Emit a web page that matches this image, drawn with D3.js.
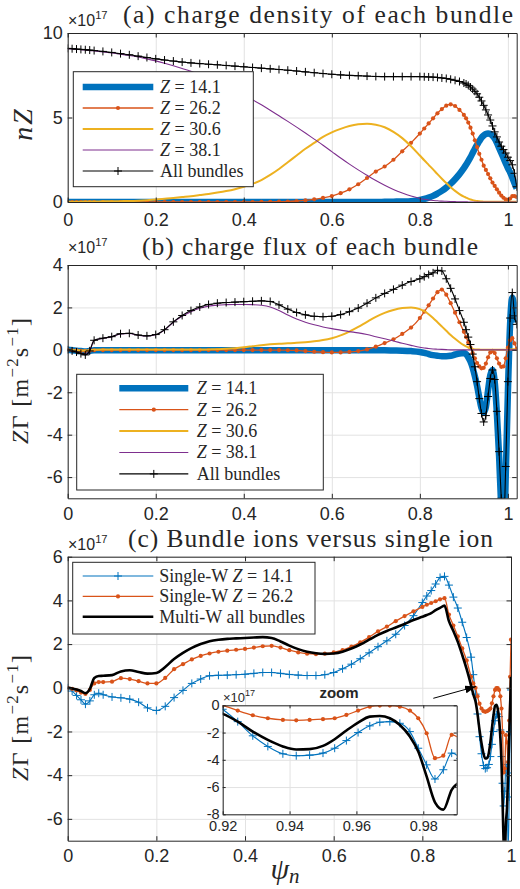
<!DOCTYPE html>
<html lang="en">
<head>
<meta charset="UTF-8">
<title>Charge density and flux of W bundles</title>
<script src="https://d3js.org/d3.v7.min.js"></script>
<style>
  body { margin: 0; background: #fff; }
  svg { display: block; }
</style>
</head>
<body>
<script>
// ---- data ----------------------------------------------------------------
// radial grid used in panels (a) and (b)
const psiAB = [
  0, 0.01, 0.02, 0.03, 0.04, 0.05, 0.06, 0.08, 0.10, 0.12,
  0.14, 0.16, 0.18, 0.20, 0.22, 0.24, 0.26, 0.28, 0.30, 0.32,
  0.34, 0.36, 0.38, 0.40, 0.42, 0.44, 0.46, 0.48, 0.50, 0.52,
  0.54, 0.56, 0.58, 0.60, 0.62, 0.64, 0.66, 0.68, 0.70, 0.72,
  0.74, 0.76, 0.78, 0.80, 0.81, 0.82, 0.83, 0.84, 0.85, 0.86,
  0.87, 0.88, 0.89, 0.90, 0.905, 0.91, 0.915, 0.92, 0.925, 0.93,
  0.935, 0.94, 0.945, 0.95, 0.955, 0.96, 0.965, 0.97, 0.975, 0.98,
  0.985, 0.99, 0.995, 1.00, 1.005, 1.01, 1.015, 1.02
];

// (a) charge density nZ, units of 1e17
const densAll = [
  9.09, 9.07, 9.05, 9.03, 9.01, 8.99, 8.96, 8.91, 8.85, 8.78,
  8.71, 8.63, 8.55, 8.47, 8.40, 8.34, 8.28, 8.23, 8.19, 8.15,
  8.12, 8.08, 8.04, 8.00, 7.96, 7.92, 7.88, 7.84, 7.80, 7.75,
  7.70, 7.65, 7.60, 7.56, 7.52, 7.49, 7.47, 7.45, 7.43, 7.42,
  7.42, 7.42, 7.42, 7.42, 7.41, 7.40, 7.39, 7.37, 7.34, 7.31,
  7.26, 7.20, 7.13, 7.04, 6.98, 6.90, 6.80, 6.68, 6.55, 6.40,
  6.20, 5.98, 5.72, 5.45, 5.15, 4.85, 4.50, 4.15, 3.85, 3.55,
  3.30, 3.10, 2.90, 2.65, 2.45, 2.20, 1.70, 0.90
];
const dens141 = [
  0, 0, 0, 0, 0, 0, 0, 0, 0, 0,
  0, 0, 0, 0, 0, 0, 0, 0, 0, 0,
  0, 0, 0, 0, 0, 0, 0, 0, 0, 0,
  0, 0, 0, 0, 0, 0, 0, 0, 0, 0.01,
  0.02, 0.03, 0.05, 0.12, 0.18, 0.26, 0.36, 0.50, 0.66, 0.85,
  1.08, 1.35, 1.65, 2.00, 2.20, 2.42, 2.65, 2.90, 3.15, 3.38,
  3.60, 3.80, 3.93, 4.02, 4.05, 4.02, 3.92, 3.75, 3.50, 3.20,
  2.90, 2.60, 2.30, 2.00, 1.75, 1.45, 1.10, 0.80
];
const dens262 = [
  0, 0, 0, 0, 0, 0, 0, 0, 0, 0,
  0, 0, 0, 0, 0, 0, 0, 0, 0, 0,
  0, 0, 0, 0, 0, 0.01, 0.01, 0.02, 0.03, 0.06,
  0.10, 0.16, 0.24, 0.35, 0.52, 0.75, 1.05, 1.42, 1.80, 2.10,
  2.50, 3.00, 3.50, 4.05, 4.35, 4.65, 4.95, 5.25, 5.50, 5.70,
  5.78, 5.68, 5.45, 5.15, 4.95, 4.70, 4.40, 4.05, 3.65, 3.25,
  2.85, 2.50, 2.15, 1.90, 1.65, 1.40, 1.15, 0.95, 0.75, 0.55,
  0.38, 0.25, 0.15, 0.12, 0.20, 0.35, 0.35, 0.30
];
const dens306 = [
  0.02, 0.02, 0.02, 0.02, 0.03, 0.03, 0.03, 0.04, 0.04, 0.05,
  0.06, 0.08, 0.11, 0.15, 0.19, 0.24, 0.29, 0.34, 0.41, 0.48,
  0.56, 0.65, 0.76, 0.90, 1.07, 1.30, 1.60, 1.95, 2.35, 2.75,
  3.15, 3.50, 3.85, 4.12, 4.33, 4.50, 4.60, 4.63, 4.57, 4.42,
  4.15, 3.78, 3.30, 2.75, 2.47, 2.20, 1.93, 1.65, 1.38, 1.12,
  0.88, 0.66, 0.47, 0.32, 0.26, 0.20, 0.15, 0.11, 0.08, 0.06,
  0.04, 0.03, 0.02, 0.02, 0.01, 0.01, 0.01, 0.01, 0.01, 0.01,
  0.01, 0.01, 0.01, 0.01, 0.01, 0.01, 0.01, 0.01
];
const dens381 = [
  9.07, 9.05, 9.03, 9.01, 8.99, 8.97, 8.94, 8.88, 8.82, 8.75,
  8.67, 8.58, 8.47, 8.35, 8.21, 8.06, 7.90, 7.73, 7.53, 7.32,
  7.10, 6.86, 6.60, 6.33, 6.05, 5.75, 5.43, 5.10, 4.77, 4.43,
  4.08, 3.72, 3.36, 2.98, 2.60, 2.24, 1.90, 1.58, 1.27, 0.99,
  0.74, 0.53, 0.35, 0.21, 0.16, 0.12, 0.09, 0.07, 0.05, 0.04,
  0.03, 0.02, 0.01, 0.01, 0.01, 0, 0, 0, 0, 0,
  0, 0, 0, 0, 0, 0, 0, 0, 0, 0,
  0, 0, 0, 0, 0, 0, 0, 0
];

// (b) charge flux Z*Gamma, units of 1e17 m^-2 s^-1
const fluxAll = [
  0, -0.05, -0.10, -0.18, -0.24, -0.05, 0.45, 0.55, 0.62, 0.76,
  0.78, 0.70, 0.66, 0.72, 0.95, 1.32, 1.62, 1.85, 2.02, 2.14,
  2.20, 2.23, 2.25, 2.27, 2.29, 2.31, 2.28, 2.12, 1.92, 1.76,
  1.65, 1.58, 1.56, 1.58, 1.66, 1.80, 1.97, 2.20, 2.45, 2.66,
  2.85, 3.05, 3.22, 3.35, 3.45, 3.55, 3.63, 3.75, 3.72, 3.35,
  2.90, 2.40, 1.85, 1.30, 0.95, 0.60, 0.25, -0.20, -0.80, -1.50,
  -2.30, -3.00, -3.40, -3.10, -2.20, -1.35, -0.95, -1.40, -2.90, -4.80,
  -7.00, -8.50, -5.50, -1.50, 1.50, 2.70, 1.60, 1.20
];
const flux141 = [
  0, -0.02, -0.04, -0.06, -0.08, -0.05, -0.02, -0.02, -0.02, -0.02,
  -0.02, -0.02, -0.02, -0.02, -0.02, -0.02, -0.02, -0.02, -0.02, -0.02,
  -0.02, -0.02, -0.02, -0.02, -0.02, -0.02, -0.02, -0.02, -0.02, -0.02,
  -0.02, -0.02, -0.02, -0.02, -0.02, -0.02, -0.02, -0.02, -0.02, -0.02,
  -0.03, -0.04, -0.06, -0.10, -0.14, -0.20, -0.25, -0.28, -0.30, -0.30,
  -0.28, -0.22, -0.17, -0.15, -0.20, -0.35, -0.55, -0.85, -1.25, -1.70,
  -2.25, -2.75, -2.95, -2.70, -1.90, -1.20, -0.95, -1.50, -3.00, -5.00,
  -7.50, -9.00, -6.00, -2.00, 1.20, 2.45, 2.00, 1.30
];
const flux262 = [
  0, -0.02, -0.03, -0.05, -0.06, -0.04, -0.02, -0.01, -0.01, -0.01,
  -0.01, -0.01, -0.01, -0.01, -0.01, -0.01, -0.01, -0.01, -0.01, -0.01,
  -0.01, -0.01, -0.01, -0.01, -0.01, -0.01, -0.01, -0.01, -0.02, -0.03,
  -0.06, -0.09, -0.11, -0.12, -0.12, -0.10, -0.06, 0.02, 0.15, 0.32,
  0.50, 0.75, 1.05, 1.50, 1.80, 2.10, 2.42, 2.72, 2.84, 2.60,
  2.20, 1.75, 1.30, 0.85, 0.60, 0.35, 0.10, -0.15, -0.40, -0.62,
  -0.78, -0.87, -0.85, -0.65, -0.35, -0.12, -0.05, -0.15, -0.40, -0.65,
  -0.80, -0.78, -0.40, 0.10, 0.45, 0.55, 0.30, 0.05
];
const flux306 = [
  0, -0.01, -0.02, -0.03, -0.03, -0.02, 0, 0.01, 0.01, 0.01,
  0.01, 0.01, 0.01, 0.01, 0.01, 0.01, 0.01, 0.01, 0.01, 0.02,
  0.03, 0.05, 0.08, 0.12, 0.17, 0.22, 0.26, 0.29, 0.31, 0.33,
  0.36, 0.40, 0.46, 0.55, 0.68, 0.86, 1.08, 1.32, 1.55, 1.74,
  1.88, 1.97, 2.00, 1.92, 1.82, 1.68, 1.50, 1.30, 1.10, 0.90,
  0.70, 0.52, 0.36, 0.22, 0.16, 0.11, 0.07, 0.04, 0.02, 0.01,
  0.01, 0, 0, 0, 0, 0, 0, 0, 0, 0,
  0, 0, 0, 0, 0.02, 0.03, 0.02, 0.01
];
const flux381 = [
  0, -0.05, -0.10, -0.17, -0.22, -0.05, 0.44, 0.54, 0.61, 0.75,
  0.77, 0.69, 0.65, 0.71, 0.93, 1.30, 1.58, 1.80, 1.96, 2.06,
  2.11, 2.13, 2.14, 2.14, 2.13, 2.10, 2.02, 1.85, 1.64, 1.45,
  1.30, 1.18, 1.08, 1.00, 0.93, 0.86, 0.80, 0.72, 0.62, 0.52,
  0.42, 0.31, 0.21, 0.12, 0.09, 0.06, 0.04, 0.03, 0.02, 0.01,
  0, 0, 0, 0, 0, 0, 0, 0, 0, 0,
  0, 0, 0, 0, 0, 0, 0, 0, 0, 0,
  0, 0, 0, 0, 0, 0, 0, 0
];

// (c) single ion versus bundled ions, grid refined near the edge
const psiC = [
  0, 0.01, 0.02, 0.03, 0.04, 0.05, 0.06, 0.07, 0.08, 0.10,
  0.12, 0.14, 0.16, 0.18, 0.20, 0.22, 0.24, 0.26, 0.28, 0.30,
  0.32, 0.34, 0.36, 0.38, 0.40, 0.42, 0.44, 0.46, 0.48, 0.50,
  0.52, 0.54, 0.56, 0.58, 0.60, 0.62, 0.64, 0.66, 0.68, 0.70,
  0.72, 0.74, 0.76, 0.78, 0.80, 0.81, 0.82, 0.83, 0.84, 0.85,
  0.86, 0.87, 0.88, 0.89, 0.90, 0.91, 0.915, 0.920, 0.9245, 0.929,
  0.9335, 0.938, 0.942, 0.946, 0.950, 0.9535, 0.957, 0.9605, 0.964, 0.967,
  0.970, 0.973, 0.976, 0.9785, 0.981, 0.9835, 0.986, 0.9885, 0.991, 0.9935,
  0.996, 0.998, 1.0
];
const singleW141 = [
  0, -0.15, -0.35, -0.55, -0.75, -0.60, -0.32, -0.25, -0.32, -0.42,
  -0.46, -0.52, -0.66, -0.92, -1.04, -0.85, -0.45, -0.12, 0.20, 0.40,
  0.55, 0.57, 0.58, 0.60, 0.62, 0.66, 0.70, 0.70, 0.66, 0.61,
  0.58, 0.56, 0.56, 0.60, 0.70, 0.87, 1.08, 1.33, 1.60, 1.88,
  2.15, 2.45, 2.85, 3.30, 3.90, 4.20, 4.45, 4.75, 5.05, 5.10,
  4.70, 4.15, 3.65, 3.00, 2.30, 1.40, 0.60, -0.29, -1.20, -2.24,
  -3.02, -3.56, -3.70, -3.66, -3.51, -3.15, -2.59, -2.00, -1.51, -1.24,
  -1.20, -1.32, -1.93, -3.15, -4.37, -5.41, -4.73, -3.51, -3.90, -7.50,
  -5.00, -2.00, -0.10
];
const singleW262 = [
  0, -0.05, -0.12, -0.22, -0.28, -0.10, 0.20, 0.26, 0.26, 0.28,
  0.44, 0.40, 0.30, 0.20, 0.20, 0.45, 0.85, 1.08, 1.30, 1.46,
  1.57, 1.65, 1.70, 1.74, 1.78, 1.84, 1.90, 1.92, 1.84, 1.72,
  1.62, 1.56, 1.54, 1.56, 1.62, 1.72, 1.88, 2.08, 2.32, 2.58,
  2.80, 3.05, 3.28, 3.50, 3.70, 3.80, 3.88, 3.96, 4.05, 4.10,
  3.35, 2.85, 2.35, 1.80, 1.25, 0.50, 0.20, 0, -0.39, -0.73,
  -0.95, -1.07, -1.10, -1.07, -1.02, -0.95, -0.71, -0.39, -0.10, -0.02,
  -0.02, -0.10, -0.39, -0.95, -2.05, -3.88, -3.70, -2.17, -2.50, -3.40,
  -1.50, 0.50, 2.20
];
const multiWAll = [
  0, -0.03, -0.08, -0.15, -0.25, -0.05, 0.45, 0.54, 0.55, 0.58,
  0.75, 0.80, 0.72, 0.65, 0.68, 0.95, 1.32, 1.60, 1.83, 2.00,
  2.13, 2.20, 2.24, 2.26, 2.28, 2.30, 2.32, 2.28, 2.12, 1.93,
  1.77, 1.65, 1.58, 1.55, 1.57, 1.65, 1.80, 1.98, 2.20, 2.42,
  2.60, 2.76, 2.92, 3.10, 3.25, 3.33, 3.42, 3.55, 3.66, 3.76,
  3.05, 2.60, 2.10, 1.50, 0.85, 0.10, -0.30, -0.63, -1.20, -1.93,
  -2.54, -3.02, -3.24, -3.22, -2.98, -2.49, -1.85, -1.27, -0.83, -0.78,
  -0.95, -1.44, -2.29, -3.39, -5.22, -7.12, -7.66, -6.20, -5.50, -4.00,
  -2.20, -0.80, 0.50
];

const bundleZ = ["14.1", "26.2", "30.6", "38.1"];
const xTicksMain = [0, 0.2, 0.4, 0.6, 0.8, 1];
const yTicksA = [0, 5, 10];
const yTicksB = [-6, -4, -2, 0, 2, 4];
const yTicksC = [-6, -4, -2, 0, 2, 4, 6];
const xTicksInset = [0.92, 0.94, 0.96, 0.98];
const yTicksInset = [-8, -6, -4, -2, 0];

// ---- drawing ---------------------------------------------------------------
const svg = d3.select("body").append("svg").attr("width", 520).attr("height", 889);
const sans = "'Liberation Sans', Arial, sans-serif";
const serif = "'Liberation Serif', 'Times New Roman', serif";
const ink = "#262626", gridInk = "#e2e2e2";
const C = { blue: "#0072BD", orange: "#D95319", yellow: "#EDB120", purple: "#7E2F8E", black: "#000000" };

let clipCount = 0;
function makeAxes(box, xDomain, yDomain, xTicks, yTicks, opt) {
  const x = d3.scaleLinear().domain(xDomain).range([box.left, box.right]);
  const y = d3.scaleLinear().domain(yDomain).range([box.bottom, box.top]);
  const w = box.right - box.left, h = box.bottom - box.top;
  const g = svg.append("g");
  if (opt.background) {
    g.append("rect").attr("x", box.left).attr("y", box.top)
      .attr("width", w).attr("height", h).attr("fill", "#fff");
  }
  // grid lines under the data
  g.append("g").attr("transform", `translate(0,${box.bottom})`)
    .call(d3.axisBottom(x).tickValues(xTicks).tickSize(-h).tickFormat(""))
    .call(s => s.select(".domain").remove())
    .selectAll("line").attr("stroke", gridInk);
  g.append("g").attr("transform", `translate(${box.left},0)`)
    .call(d3.axisLeft(y).tickValues(yTicks).tickSize(-w).tickFormat(""))
    .call(s => s.select(".domain").remove())
    .selectAll("line").attr("stroke", gridInk);

  const id = "clip" + (clipCount++);
  g.append("clipPath").attr("id", id).append("rect")
    .attr("x", box.left).attr("y", box.top).attr("width", w).attr("height", h);
  const plot = g.append("g").attr("clip-path", `url(#${id})`);
  const frame = g.append("g");

  function finish() {
    const fmt = d => String(d);
    const t = opt.tick;
    frame.append("g").attr("transform", `translate(0,${box.bottom})`)
      .call(d3.axisBottom(x).tickValues(xTicks).tickSize(-t).tickSizeOuter(0)
        .tickPadding(opt.xPad).tickFormat(fmt));
    frame.append("g").attr("transform", `translate(0,${box.top})`)
      .call(d3.axisTop(x).tickValues(xTicks).tickSize(-t).tickSizeOuter(0).tickFormat(""));
    frame.append("g").attr("transform", `translate(${box.left},0)`)
      .call(d3.axisLeft(y).tickValues(yTicks).tickSize(-t).tickSizeOuter(0)
        .tickPadding(opt.yPad).tickFormat(fmt));
    frame.append("g").attr("transform", `translate(${box.right},0)`)
      .call(d3.axisRight(y).tickValues(yTicks).tickSize(-t).tickSizeOuter(0).tickFormat(""));
    frame.selectAll(".domain, .tick line").attr("stroke", ink);
    frame.selectAll("g").attr("font-family", sans).attr("font-size", opt.fontSize);
    frame.selectAll("text").attr("fill", ink);
  }
  return { x, y, plot, finish };
}

function plusPath(cx, cy, r) {
  return `M${cx - r},${cy}H${cx + r}M${cx},${cy - r}V${cy + r}`;
}

function drawSeries(ax, xs, ys, st) {
  const pts = xs.map((d, i) => [d, ys[i]]);
  const line = d3.line().x(d => ax.x(d[0])).y(d => ax.y(d[1])).curve(d3.curveMonotoneX);
  ax.plot.append("path").attr("d", line(pts))
    .attr("fill", "none").attr("stroke", st.color).attr("stroke-width", st.width)
    .attr("stroke-linejoin", "round");
  if (st.marker === "plus") {
    ax.plot.append("g").selectAll("path").data(pts).join("path")
      .attr("d", d => plusPath(ax.x(d[0]), ax.y(d[1]), 4))
      .attr("stroke", st.color).attr("stroke-width", 1).attr("fill", "none");
  } else if (st.marker === "dot") {
    ax.plot.append("g").selectAll("circle").data(pts).join("circle")
      .attr("cx", d => ax.x(d[0])).attr("cy", d => ax.y(d[1])).attr("r", 2.1)
      .attr("fill", st.color);
  }
}

function drawLegend(lg, entries) {
  const g = svg.append("g");
  g.append("rect").attr("x", lg.left).attr("y", lg.top)
    .attr("width", lg.right - lg.left).attr("height", lg.bottom - lg.top)
    .attr("fill", "#fff").attr("stroke", ink).attr("stroke-width", 1);
  entries.forEach((e, i) => {
    const cy = lg.rowY + i * lg.step;
    g.append("line").attr("x1", lg.x1).attr("x2", lg.x2).attr("y1", cy).attr("y2", cy)
      .attr("stroke", e.style.color).attr("stroke-width", e.style.width);
    const mx = (lg.x1 + lg.x2) / 2;
    if (e.style.marker === "plus") {
      g.append("path").attr("d", plusPath(mx, cy, 4)).attr("stroke", e.style.color).attr("stroke-width", 1);
    } else if (e.style.marker === "dot") {
      g.append("circle").attr("cx", mx).attr("cy", cy).attr("r", 2.1).attr("fill", e.style.color);
    }
    const t = g.append("text").attr("x", lg.textX).attr("y", cy).attr("dy", "0.33em")
      .attr("font-family", serif).attr("font-size", 18).attr("fill", ink);
    e.parts.forEach(p => t.append("tspan").attr("font-style", p[1] ? "italic" : null).text(p[0]));
  });
}

function title(cx, y, str, width) {
  svg.append("text").attr("x", cx).attr("y", y).attr("text-anchor", "middle")
    .attr("font-family", serif).attr("font-size", 25.5).attr("fill", ink)
    .attr("textLength", width).attr("lengthAdjust", "spacing").text(str);
}

function expLabel(x, y, fs) {
  const t = svg.append("text").attr("x", x).attr("y", y)
    .attr("font-family", sans).attr("font-size", fs).attr("fill", ink);
  t.append("tspan").text("×10");
  t.append("tspan").attr("font-size", fs * 0.7).attr("dy", -fs * 0.45).text("17");
}

function fluxLabel(x, y) {
  const t = svg.append("text").attr("transform", `translate(${x},${y}) rotate(-90)`)
    .attr("text-anchor", "middle").attr("font-family", serif).attr("font-size", 24).attr("fill", ink)
    .attr("textLength", 126).attr("lengthAdjust", "spacing");
  t.append("tspan").attr("font-style", "italic").text("Z");
  t.append("tspan").text("Γ [m");
  t.append("tspan").attr("font-size", "0.7em").attr("dy", "-0.6em").text("−2");
  t.append("tspan").attr("dy", "0.42em").text("s");
  t.append("tspan").attr("font-size", "0.7em").attr("dy", "-0.6em").text("−1");
  t.append("tspan").attr("dy", "0.42em").text("]");
}

const styleAB = [
  { color: C.blue, width: 6.5 },
  { color: C.orange, width: 1.3, marker: "dot" },
  { color: C.yellow, width: 2 },
  { color: C.purple, width: 1.1 },
  { color: C.black, width: 1.1, marker: "plus" }
];
const entriesAB = bundleZ.map((z, i) => ({ parts: [["Z", true], [" = " + z, false]], style: styleAB[i] }))
  .concat([{ parts: [["All bundles", false]], style: styleAB[4] }]);

// panel (a)
const axA = makeAxes({ left: 67.7, right: 516.7, top: 33, bottom: 202 }, [0, 1.02], [0, 10],
  xTicksMain, yTicksA, { tick: 4.5, xPad: 11, yPad: 5, fontSize: 18 });
[dens141, dens262, dens306, dens381, densAll].forEach((s, i) => drawSeries(axA, psiAB, s, styleAB[i]));
axA.finish();
drawLegend({ left: 73.3, right: 253.3, top: 71.7, bottom: 186.7, rowY: 87, step: 21, x1: 82.7, x2: 153.3, textX: 160 }, entriesAB);
title(318, 23, "(a) charge density of each bundle", 390);
expLabel(68, 26, 16);
svg.append("text").attr("transform", "translate(32,124) rotate(-90)")
  .attr("text-anchor", "middle").attr("font-family", serif).attr("font-style", "italic")
  .attr("font-size", 28).attr("letter-spacing", 2).attr("fill", ink).text("nZ");

// panel (b)
const axB = makeAxes({ left: 67.7, right: 516.7, top: 265, bottom: 498.3 }, [0, 1.02], [-7, 4],
  xTicksMain, yTicksB, { tick: 4.5, xPad: 9, yPad: 5, fontSize: 18 });
[flux141, flux262, flux306, flux381, fluxAll].forEach((s, i) => drawSeries(axB, psiAB, s, styleAB[i]));
axB.finish();
drawLegend({ left: 76.7, right: 323.3, top: 374.3, bottom: 490, rowY: 388.3, step: 21.4, x1: 119.3, x2: 188.3, textX: 196.7 }, entriesAB);
title(310, 255, "(b) charge flux of each bundle", 336);
expLabel(68, 253, 16);
fluxLabel(28, 381);

// panel (c)
const styleC = [
  { color: C.blue, width: 1.1, marker: "plus" },
  { color: C.orange, width: 1.3, marker: "dot" },
  { color: C.black, width: 2.6 }
];
const axC = makeAxes({ left: 67.7, right: 511, top: 556.7, bottom: 840.7 }, [0, 1], [-7, 6],
  xTicksMain, yTicksC, { tick: 4.5, xPad: 9, yPad: 5, fontSize: 18 });
[singleW141, singleW262, multiWAll].forEach((s, i) => drawSeries(axC, psiC, s, styleC[i]));
axC.finish();
drawLegend({ left: 72.7, right: 315, top: 562.3, bottom: 634, rowY: 576, step: 20.4, x1: 82.7, x2: 153.3, textX: 159.3 }, [
  { parts: [["Single-W ", false], ["Z", true], [" = " + bundleZ[0], false]], style: styleC[0] },
  { parts: [["Single-W ", false], ["Z", true], [" = " + bundleZ[1], false]], style: styleC[1] },
  { parts: [["Multi-W all bundles", false]], style: styleC[2] }
]);
title(310.5, 547, "(c) Bundle ions versus single ion", 365);
expLabel(68, 550, 16);
fluxLabel(28, 718);
const xl = svg.append("text").attr("x", 285).attr("y", 879).attr("text-anchor", "middle")
  .attr("font-family", serif).attr("font-style", "italic").attr("font-size", 30).attr("fill", ink);
xl.append("tspan").text("ψ");
xl.append("tspan").attr("font-size", "0.7em").attr("dy", "0.2em").text("n");

// inset zoom of panel (c)
const axI = makeAxes({ left: 222.7, right: 456.7, top: 705.3, bottom: 814.3 }, [0.92, 0.99], [-8, 0],
  xTicksInset, yTicksInset, { tick: 3, xPad: 6.5, yPad: 3, fontSize: 14.5, background: true });
[singleW141, singleW262, multiWAll].forEach((s, i) => drawSeries(axI, psiC, s, styleC[i]));
axI.finish();
expLabel(223, 701.5, 13);
svg.append("text").attr("x", 339).attr("y", 698).attr("text-anchor", "middle")
  .attr("font-family", sans).attr("font-weight", "bold").attr("font-size", 15)
  .attr("fill", ink).text("zoom");

svg.append("defs").append("marker").attr("id", "arrowhead")
  .attr("markerUnits", "userSpaceOnUse").attr("markerWidth", 11).attr("markerHeight", 8)
  .attr("refX", 11).attr("refY", 4).attr("orient", "auto")
  .append("path").attr("d", "M0,0L11,4L0,8Z").attr("fill", "#000");
svg.append("line").attr("x1", 433.3).attr("y1", 698.3).attr("x2", 476).attr("y2", 686.5)
  .attr("stroke", "#000").attr("stroke-width", 1).attr("marker-end", "url(#arrowhead)");
</script>
</body>
</html>
